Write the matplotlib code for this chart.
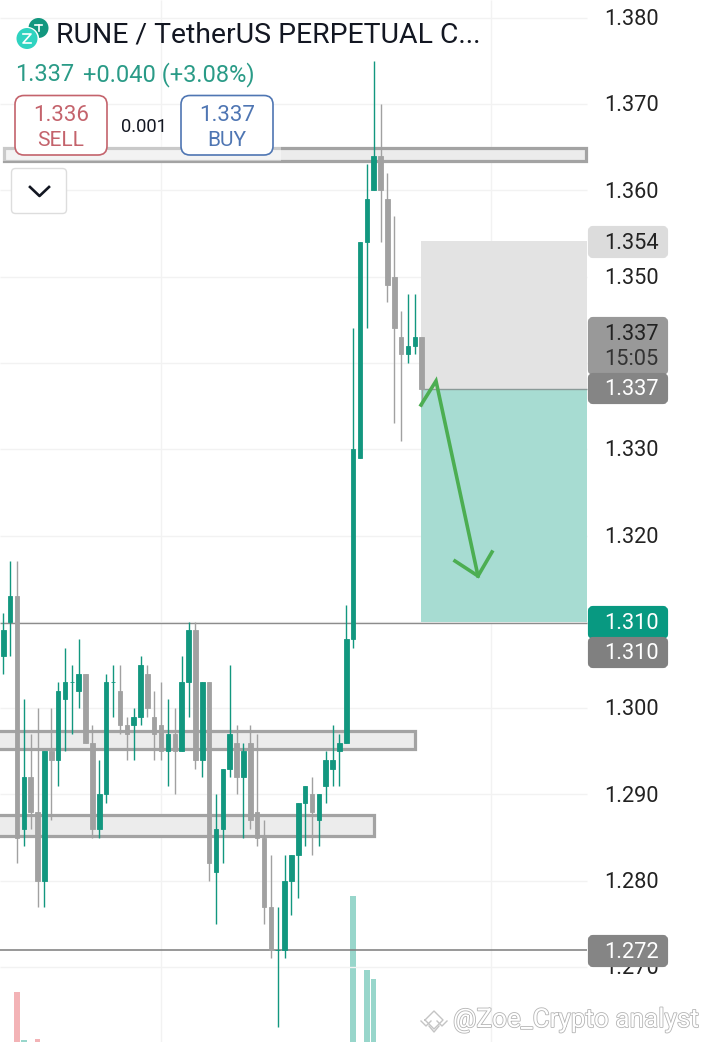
import matplotlib
matplotlib.use('Agg')
import matplotlib.pyplot as plt
import matplotlib.patheffects as pe
from matplotlib.patches import Rectangle, FancyBboxPatch, Circle

plt.rcParams['font.family'] = ['Roboto', 'DejaVu Sans']

W, H = 706, 1042

# candles, price
opens = [1.306, 1.310, 1.313, 1.286, 1.292, 1.288, 1.280, 1.295, 1.294, 1.301, 1.303,
         1.302, 1.304, 1.296, 1.286, 1.290, 1.303, 1.302, 1.298, 1.298, 1.299, 1.304,
         1.299, 1.298, 1.295, 1.297, 1.295, 1.303, 1.309, 1.294, 1.303, 1.281, 1.286,
         1.293, 1.296, 1.292, 1.296, 1.288, 1.285, 1.277, 1.272, 1.272, 1.280, 1.283,
         1.289, 1.290, 1.287, 1.291, 1.293, 1.295, 1.296, 1.308, 1.329, 1.354, 1.360,
         1.364, 1.359, 1.350, 1.343, 1.341, 1.342, 1.343]
closes = [1.309, 1.313, 1.285, 1.292, 1.288, 1.280, 1.295, 1.294, 1.302, 1.303, 1.303,
          1.304, 1.296, 1.286, 1.290, 1.303, 1.303, 1.298, 1.297, 1.299, 1.305, 1.300,
          1.297, 1.295, 1.297, 1.295, 1.303, 1.309, 1.294, 1.303, 1.282, 1.286, 1.293,
          1.297, 1.292, 1.295, 1.287, 1.285, 1.277, 1.272, 1.272, 1.280, 1.283, 1.289,
          1.291, 1.288, 1.290, 1.294, 1.294, 1.296, 1.308, 1.330, 1.354, 1.359, 1.364,
          1.360, 1.349, 1.344, 1.341, 1.342, 1.343, 1.337]
highs = [1.311, 1.317, 1.317, 1.301, 1.297, 1.300, 1.295, 1.300, 1.303, 1.307, 1.305,
         1.308, 1.304, 1.298, 1.294, 1.304, 1.305, 1.305, 1.299, 1.300, 1.306, 1.305,
         1.302, 1.303, 1.301, 1.300, 1.306, 1.310, 1.310, 1.303, 1.303, 1.290, 1.293,
         1.305, 1.298, 1.296, 1.298, 1.297, 1.287, 1.283, 1.277, 1.283, 1.283, 1.289,
         1.291, 1.292, 1.290, 1.295, 1.298, 1.297, 1.312, 1.344, 1.354, 1.363, 1.375,
         1.370, 1.362, 1.357, 1.346, 1.348, 1.348, 1.343]
lows = [1.304, 1.306, 1.282, 1.284, 1.286, 1.277, 1.277, 1.287, 1.291, 1.295, 1.297,
        1.300, 1.296, 1.285, 1.285, 1.289, 1.299, 1.297, 1.294, 1.294, 1.298, 1.299,
        1.294, 1.294, 1.291, 1.290, 1.295, 1.299, 1.293, 1.292, 1.280, 1.275, 1.282,
        1.292, 1.290, 1.285, 1.286, 1.284, 1.275, 1.271, 1.263, 1.271, 1.276, 1.278,
        1.284, 1.283, 1.284, 1.289, 1.291, 1.291, 1.296, 1.307, 1.329, 1.344, 1.360,
        1.354, 1.347, 1.333, 1.331, 1.340, 1.341, 1.335]

# volume bars that show at the bottom edge
vol_idx = [2, 3, 5, 51, 53, 54]
vol_vals = [50, 2, 3, 146, 72, 63]

axis_prices = [1.38, 1.37, 1.36, 1.35, 1.33, 1.32, 1.30, 1.29, 1.28, 1.27]
grid_prices = [1.38, 1.37, 1.36, 1.35, 1.34, 1.33, 1.32, 1.31, 1.30, 1.29, 1.28, 1.27]

GREEN = '#12977f'
GRAY = '#a1a1a1'
ZONE_EDGE = '#a3a3a3'
ZONE_FILL = '#ececec'
TXT_DY = 1.8  # Roboto sits a bit high with va=center

# pixel x/y <-> chart mapping
x0, dx = 3.3, 6.86
y_1270, px_per_unit = 967.0, 8630.0


def ix(px):
    return (px - x0) / dx


def py(price):
    return y_1270 - (price - 1.27) * px_per_unit


fig = plt.figure(figsize=(W / 100, H / 100), dpi=100, facecolor='white')
ax = fig.add_axes([0, 0, 1, 1])
ax.set_xlim(ix(0), ix(W))
ax.set_ylim(1.27 - (H - y_1270) / px_per_unit, 1.27 + y_1270 / px_per_unit)
ax.axis('off')

right = ix(587)

# grid
ax.hlines(grid_prices, ix(0), right, color='#f2f2f2', lw=1, zorder=1)
ax.vlines([ix(161), ix(491)], ax.get_ylim()[0], ax.get_ylim()[1], color='#f2f2f2', lw=1, zorder=1)

# position box
ax.add_patch(Rectangle((ix(421), 1.337), right - ix(421), 0.0171, fc='#e3e3e3', ec='none', zorder=2))
ax.add_patch(Rectangle((ix(421), 1.310), right - ix(421), 0.027, fc='#a7dcd2', ec='none', zorder=2))
ax.hlines(1.337, ix(421), right, color='#8a9a98', lw=1, zorder=2.5)

# horizontal levels
ax.hlines(1.3099, ix(0), right, color='#8c8c8c', lw=1, zorder=2.5)
ax.hlines(1.272, ix(0), right, color='#7c7c7c', lw=1.1, zorder=2.5)

# zones
for left, rgt, lo, hi in [(ix(4), ix(586), 1.36345, 1.36490),
                          (ix(-12), ix(415), 1.2953, 1.2974),
                          (ix(-12), ix(374), 1.2852, 1.2876)]:
    ax.add_patch(Rectangle((left, lo), rgt - left, hi - lo, fc=ZONE_FILL, ec=ZONE_EDGE, lw=2.3, zorder=3))

# volume on its own scale
vax = ax.twinx()
vax.set_ylim(0, H)
vax.axis('off')
vax.bar(vol_idx, vol_vals, width=0.8,
        color=['#f3b3b6' if closes[i] < opens[i] else '#98d6cb' for i in vol_idx], zorder=2)
vax.patch.set_visible(False)
ax.set_zorder(vax.get_zorder() + 1)
ax.patch.set_visible(False)

# candles
for i, (o, c, h, l) in enumerate(zip(opens, closes, highs, lows)):
    col = GRAY if c < o else GREEN
    ax.vlines(i, l, h, color=col, lw=1.0, zorder=4)
    ax.bar(i, c - o, bottom=o, width=0.66, color=col, edgecolor=col, linewidth=0.6, zorder=5)

# overlay in pixels for the app furniture
ui = fig.add_axes([0, 0, 1, 1], zorder=10)
ui.set_xlim(0, W)
ui.set_ylim(H, 0)
ui.axis('off')
ui.patch.set_visible(False)

# veil over the header
ui.add_patch(Rectangle((0, 140), 281, 21, fc='white', ec='none', alpha=0.42, zorder=1))

# arrow
ui.plot([421, 436, 478], [405, 381, 576], color='#4cae52', lw=2.6, solid_joinstyle='miter', zorder=2)
ui.plot([455, 478, 492], [561, 576, 552], color='#4cae52', lw=2.6, solid_joinstyle='miter', zorder=2)

# price axis text
for p in axis_prices:
    ui.text(631.5, py(p) + TXT_DY, f'{p:.3f}', ha='center', va='center', fontsize=15.7, color='#222222', zorder=3)


def tag(y0, y1, fc, zorder=4):
    ui.add_patch(FancyBboxPatch((590, y0 + 2), 76, y1 - y0 - 4, boxstyle='round,pad=0,rounding_size=3',
                                mutation_aspect=1, fc=fc, ec=fc, lw=3, zorder=zorder))


def tag_text(y, s, color):
    ui.text(631.5, y + TXT_DY, s, ha='center', va='center', fontsize=15.7, color=color, zorder=6)


tag(226, 258, '#dcdcdc')
tag_text(242, '1.354', '#222222')
tag(317, 375, '#999999')
tag_text(333, '1.337', '#222222')
tag_text(358, '15:05', '#333333')
tag(373, 404, '#858585', zorder=5)
tag_text(388, '1.337', 'white')
tag(606, 639, '#089981')
tag_text(621.5, '1.310', 'white')
tag(637, 668, '#808080', zorder=5)
tag_text(652, '1.310', 'white')
tag(935, 967, '#858585')
tag_text(951, '1.272', 'white')

# symbol icon
ui.add_patch(Circle((38.5, 28), 10, fc='#12977f', ec='none', zorder=3))
ui.plot([35, 42], [25, 25], color='white', lw=1.2, zorder=4)
ui.plot([38.5, 38.5], [25, 31], color='white', lw=1.2, zorder=4)
ui.add_patch(Circle((27, 39), 12.2, fc='white', ec='none', zorder=4))
ui.add_patch(Circle((27, 38.5), 10.5, fc='#2fd3c0', ec='none', zorder=5))
ui.plot([23, 31, 23, 31], [34, 34, 43, 43], color='white', lw=1.2, zorder=6)

# header
ui.text(55.5, 33.5 + TXT_DY, 'RUNE / TetherUS PERPETUAL C...', ha='left', va='center', fontsize=20.4,
        color='#131722', zorder=5)
ui.text(15, 73 + TXT_DY, '1.337', ha='left', va='center', fontsize=17, color='#2a9b87', zorder=5)
ui.text(83, 73 + TXT_DY, '+0.040 (+3.08%)', ha='left', va='center', fontsize=17, color='#2a9b87', zorder=5)

# sell / buy
for bx, edge, price, name in [(15, '#c4636c', '1.336', 'SELL'), (181, '#4f76b3', '1.337', 'BUY')]:
    ui.add_patch(FancyBboxPatch((bx, 95.5), 92, 59.5, boxstyle='round,pad=0,rounding_size=9',
                                fc='white', ec=edge, lw=1.2, zorder=5))
    ui.text(bx + 46, 113.5 + TXT_DY, price, ha='center', va='center', fontsize=16, color=edge, zorder=6)
    ui.text(bx + 46, 139 + TXT_DY, name, ha='center', va='center', fontsize=15, color=edge, zorder=6)
ui.text(144, 125 + TXT_DY, '0.001', ha='center', va='center', fontsize=13.2, color='#131722', zorder=6)

# collapse button
ui.add_patch(FancyBboxPatch((11.5, 168.5), 55, 45, boxstyle='round,pad=0,rounding_size=4',
                            fc='white', ec='#dddddd', lw=1, zorder=5))
ui.plot([30, 39.5, 49], [187, 196, 187], color='#131722', lw=1.9, zorder=6)

# watermark
ui.text(453, 1020, '@Zoe_Crypto analyst', ha='left', va='center', fontsize=18.8, color='white', zorder=7,
        path_effects=[pe.withStroke(linewidth=1.2, foreground='#b4b4b4')])
wm = dict(color='#c4c4c4', lw=1, zorder=7)
ui.plot([425, 434, 443, 434, 425], [1020, 1011, 1020, 1029, 1020], **wm)
ui.plot([421, 426, 431], [1021, 1026, 1021], **wm)
ui.plot([437, 442, 447], [1021, 1026, 1021], **wm)
ui.plot([429, 434, 439], [1026, 1032, 1026], **wm)

fig.savefig('out.png', dpi=100, facecolor='white')
